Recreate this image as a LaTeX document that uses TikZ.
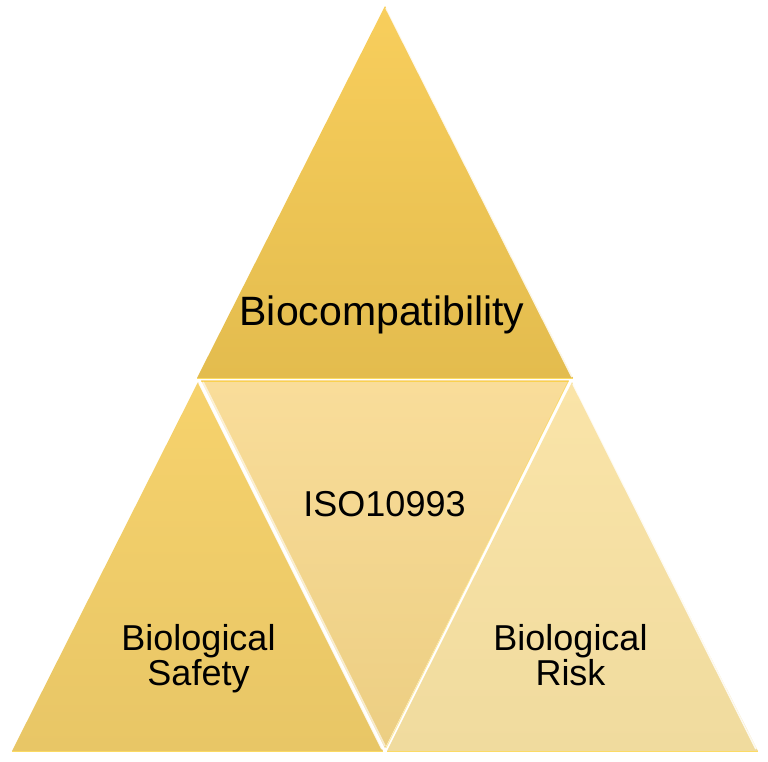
\documentclass[tikz,border=0pt]{standalone}
\usepackage{fontspec}
\setmainfont{Liberation Sans}
\usetikzlibrary{positioning}

\tikzset{
  label text/.style={inner sep=0pt,align=center,text=black},
  big text/.style={label text,font=\fontsize{41}{45}\selectfont},
  small text/.style={label text,font=\fontsize{36}{33}\selectfont},
  shine/.style={white,opacity=0.85,line width=1.6pt},
  rim/.style={draw=gold!85!orange,line width=0.8pt}
}
\colorlet{gold}{yellow!70!orange}

\begin{document}
\begin{tikzpicture}[x=1pt,y=-1pt]
 \useasboundingbox (0,0) rectangle (768,761);
 % corners
 \coordinate (apex) at (385,6);
 \coordinate (midL) at (198,380);
 \coordinate (midR) at (571,380);
 \coordinate (botL) at (12,751);
 \coordinate (botM) at (385,751);
 \coordinate (botR) at (758,751);
 % four triangles
 \shade[top color={rgb,255:red,248;green,206;blue,92},bottom color={rgb,255:red,227;green,188;blue,78}]
   (385,6)--(197,378)--(573,378)--cycle;
 \shade[top color={rgb,255:red,246;green,210;blue,108},bottom color={rgb,255:red,232;green,198;blue,102}]
   (198,382)--(12,751)--(383,751)--cycle;
 \shade[top color={rgb,255:red,249;green,221;blue,154},bottom color={rgb,255:red,236;green,206;blue,130}]
   (201,380)--(569,380)--(385,748)--cycle;
 \shade[top color={rgb,255:red,250;green,228;blue,168},bottom color={rgb,255:red,240;green,219;blue,158}]
   (572,382)--(387,751)--(758,751)--cycle;
 % rims and highlights
 \draw[rim,opacity=0.6] (197,378)--(573,378);
 \draw[rim,opacity=0.6] (12,751)--(383,751) (387,751)--(758,751);
 \draw[rim,opacity=0.5] (201,381)--(569,381);
 \draw[shine] (386,8)--(572,377);
 \draw[shine] (199,383)--(382,749);
 \draw[shine,opacity=0.6] (203,382)--(385,746);
 \draw[shine] (573,384)--(756,749);
 \draw[rim,opacity=0.4] (568,382)--(386,748);
 % labels
 \node[big text,anchor=base] (biocomp) at (382,325) {Biocompatibility};
 \node[small text,anchor=base] (iso) at (384.5,516.7) {ISO10993};
 \node[small text,anchor=north] (safety) at (198.5,624.2) {Biological\\Safety};
 \node[small text,anchor=north] (risk) at (570.5,624.2) {Biological\\Risk};
\end{tikzpicture}
\end{document}
